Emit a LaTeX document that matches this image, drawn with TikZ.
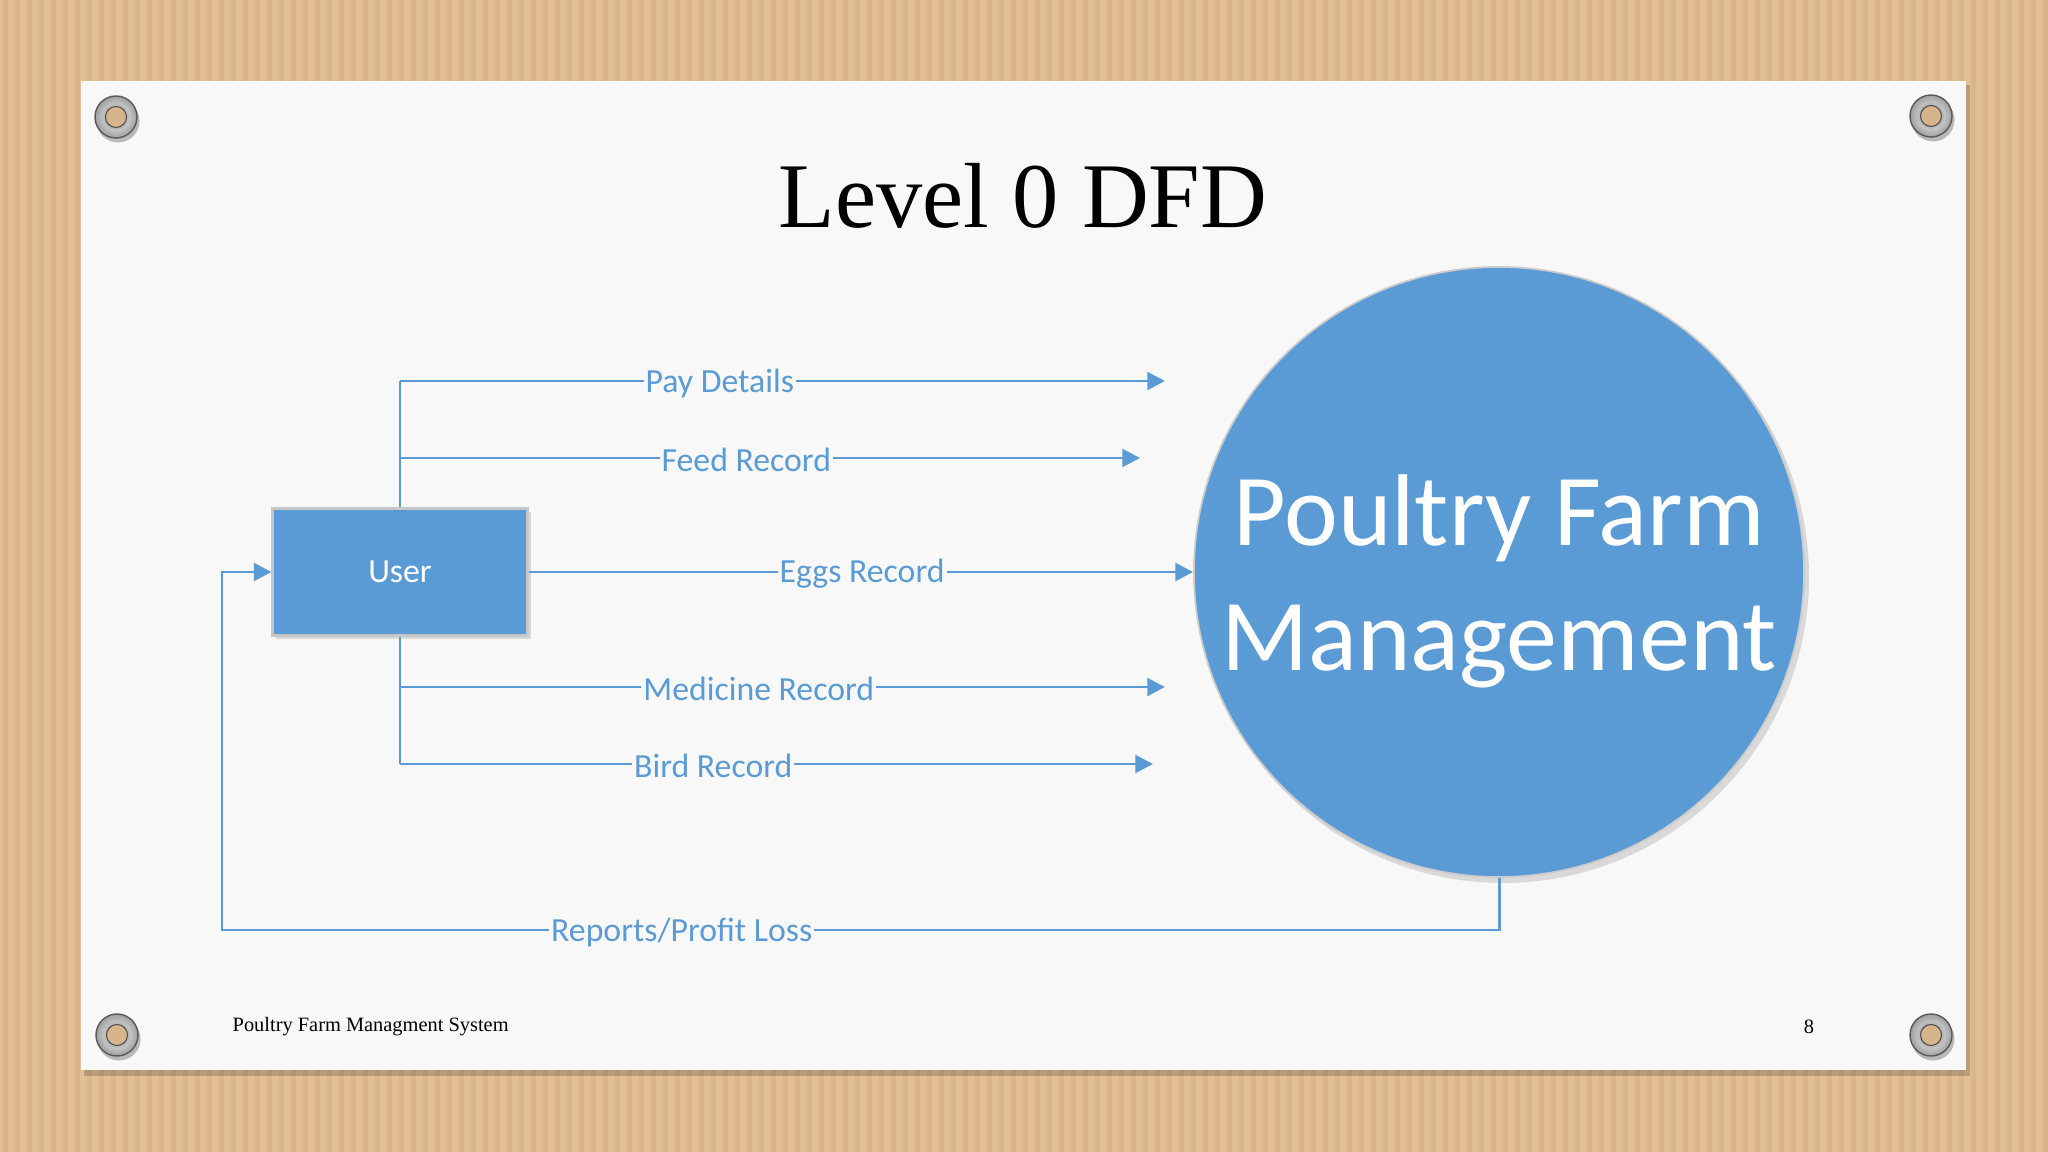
\documentclass[tikz,border=0pt]{standalone}
\usepackage{fontspec}
\setmainfont{Liberation Serif}
\newfontfamily\calib{Carlito}
\usetikzlibrary{arrows.meta,shapes.geometric,calc}
\definecolor{ofblue}{HTML}{5B9BD5}
\definecolor{paper}{HTML}{F8F8F8}
\definecolor{woodA}{HTML}{E2BF95}
\definecolor{woodB}{HTML}{C9A173}
\definecolor{holec}{HTML}{D6B48C}
\tikzset{
  conn/.style={draw=ofblue, line width=0.85pt},
  flow/.style={conn, -{Triangle[length=5pt, width=5pt]}},
  lbl/.style={fill=paper, inner sep=0.6pt, yshift=-0.6pt, text=ofblue, font=\calib\fontsize{9.6}{11}\selectfont},
  userbox/.style={rectangle, fill=ofblue, draw=gray!45, line width=0.6pt, minimum width=72.5pt, minimum height=36.1pt, text=white, font=\calib\fontsize{9.6}{11}\selectfont},
  procc/.style={circle, fill=ofblue, draw=gray!40, line width=0.5pt, minimum size=173.5pt, inner sep=0pt, text=white, align=center, font=\calib\fontsize{29}{35.5}\selectfont},
}
\newcommand{\mypin}[1]{%
  \fill[black, opacity=0.25] ($#1+(2,4)$) circle (21.5);
  \shade[inner color=white, outer color=gray!75] #1 circle (21);
  \draw[gray!70!black, line width=0.4pt] #1 circle (21);
  \fill[gray!55] #1 circle (13);
  \fill[holec] #1 circle (10.5);
  \draw[gray!60!black, line width=0.3pt] #1 circle (10.5);
}
\begin{document}
\begin{tikzpicture}[x=0.01cm, y=-0.01cm]
\useasboundingbox (0,0) rectangle (2048,1152);
% wood background
\fill[woodA] (0,0) rectangle (2048,1152);
\foreach \i in {0,...,170} {
  \fill[woodB, opacity=0.3] ({\i*12+3},0) rectangle ({\i*12+8},1152);
}
% paper
\fill[black, opacity=0.18] (84,85) rectangle (1970,1076);
\fill[paper] (81,81) rectangle (1966,1070);
% pins
\mypin{(116,117)}
\mypin{(1931,116)}
\mypin{(117,1035)}
\mypin{(1931,1035)}
% title
\node (title) at (1023,196) {\fontsize{26.3}{32}\selectfont Level 0 DFD};
% footer
\node[anchor=west, inner sep=0pt] (foot) at (232,1027) {\fontsize{5.8}{7}\selectfont Poultry Farm Managment System};
\node (pnum) at (1809,1027) {\fontsize{5.8}{7}\selectfont 8};
% main nodes
\fill[black, opacity=0.12] (1503,577) circle (306);
\node[procc] (proc) at (1499,572) {};
\node[text=white, align=center, font=\calib\fontsize{29}{35.5}\selectfont] (proctext) at (1499,581) {Poultry Farm\\Management};
\fill[black, opacity=0.12] (276,512) rectangle (531,639);
\node[userbox] (user) at (400,572) {User};
% free arrow ends
\coordinate (pdE) at (1165,381);
\coordinate (frE) at (1140,458);
\coordinate (mrE) at (1165,687);
\coordinate (brE) at (1153,764);
\coordinate (rpA) at (1499,930);
\coordinate (rpB) at (222,930);
% trunks
\draw[conn] (user.north) -- (user.north |- pdE);
\draw[conn] (user.south) -- (user.south |- brE);
% flows
\draw[flow] (user.north |- pdE) -- node[lbl, pos=0.418] {Pay Details} (pdE);
\draw[flow] (user.north |- frE) -- node[lbl, pos=0.468] {Feed Record} (frE);
\draw[flow] (user.east) -- node[lbl, pos=0.502] {Eggs Record} (proc.west);
\draw[flow] (user.south |- mrE) -- node[lbl, pos=0.469] {Medicine Record} (mrE);
\draw[flow] (user.south |- brE) -- node[lbl, pos=0.416] {Bird Record} (brE);
\draw[flow] (proc.south) -- (rpA) -- node[lbl, pos=0.64] {Reports/Profit Loss} (rpB) |- (user.west);
\end{tikzpicture}
\end{document}
